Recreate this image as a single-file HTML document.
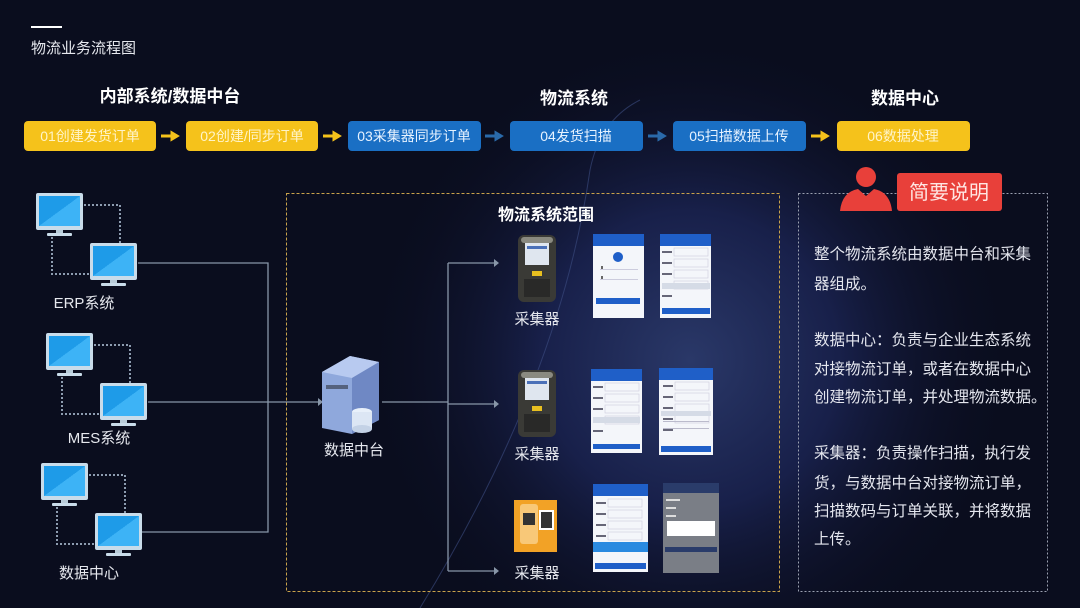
<!DOCTYPE html>
<html><head><meta charset="utf-8"><style>
html,body{margin:0;padding:0;background:#0a0d1e;}
body{width:1080px;height:608px;overflow:hidden;position:relative;font-family:"Liberation Sans","Noto Sans CJK SC",sans-serif;}
svg{position:absolute;left:0;top:0}
text{font-family:"Liberation Sans","Noto Sans CJK SC",sans-serif;}
</style></head><body>
<svg width="1080" height="608" viewBox="0 0 1080 608" xmlns="http://www.w3.org/2000/svg">
<defs>
<radialGradient id="glow" cx="690" cy="360" r="330" gradientUnits="userSpaceOnUse">
<stop offset="0" stop-color="#2a3868"/><stop offset="0.45" stop-color="#18204a"/><stop offset="1" stop-color="#0a0d1e" stop-opacity="0"/>
</radialGradient>
<linearGradient id="scr" x1="0" y1="0" x2="1" y2="1">
<stop offset="0.5" stop-color="#1e9be8"/><stop offset="0.5" stop-color="#3db3f6"/>
</linearGradient>
<g id="mon">
<rect x="0" y="0" width="47" height="37" rx="2" fill="#c9dcea"/>
<rect x="3" y="3" width="41" height="30" fill="url(#scr)"/>
<rect x="20" y="37" width="7" height="3" fill="#b8cbd8"/>
<rect x="11" y="40" width="25" height="3" rx="1" fill="#c9dcea"/>
</g>
<g id="pda">
<rect x="0" y="0" width="38" height="67" rx="6" fill="#3a3a36"/>
<rect x="3" y="2" width="32" height="6" rx="3" fill="#8a8a80"/>
<rect x="7" y="8" width="24" height="22" fill="#dfe6ef"/>
<rect x="9" y="11" width="20" height="3" fill="#4a70b8"/>
<rect x="14" y="36" width="10" height="5" fill="#e8c020"/>
<rect x="6" y="44" width="26" height="18" fill="#222" opacity="0.7"/>
</g>
<g id="scrA">
<rect x="0" y="0" width="51" height="84" fill="#f4f6fa"/>
<rect x="0" y="0" width="51" height="12" fill="#1f5fc8"/>
</g>
<g id="rows">
<rect x="2" y="0" width="10" height="2" fill="#667"/><rect x="14" y="-3" width="34" height="8" fill="none" stroke="#ccd" stroke-width="0.6"/>
<rect x="2" y="11" width="10" height="2" fill="#667"/><rect x="14" y="8" width="34" height="8" fill="none" stroke="#ccd" stroke-width="0.6"/>
<rect x="2" y="22" width="10" height="2" fill="#667"/><rect x="14" y="19" width="34" height="8" fill="none" stroke="#ccd" stroke-width="0.6"/>
<rect x="2" y="33" width="10" height="2" fill="#667"/><rect x="14" y="30" width="34" height="8" fill="none" stroke="#ccd" stroke-width="0.6"/>
<rect x="2" y="44" width="10" height="2" fill="#667"/>
</g>
</defs>
<rect width="1080" height="608" fill="#0a0d1e"/>
<rect width="1080" height="608" fill="url(#glow)"/>
<path d="M420 608 Q560 380 590 170 Q600 120 640 100" stroke="#3d4f84" stroke-width="1" fill="none" opacity="0.6"/>

<rect x="31" y="26" width="31" height="2" fill="#fff"/>
<text x="31" y="53" font-size="15" fill="#e6e8ee">物流业务流程图</text>

<text x="170" y="102" font-size="17" font-weight="bold" fill="#fff" text-anchor="middle">内部系统/数据中台</text>
<text x="574" y="104" font-size="17" font-weight="bold" fill="#fff" text-anchor="middle">物流系统</text>
<text x="905" y="104" font-size="17" font-weight="bold" fill="#fff" text-anchor="middle">数据中心</text>

<g font-size="14" text-anchor="middle">
<rect x="24" y="121" width="132" height="30" rx="4" fill="#f5c21b"/><text x="90" y="141" fill="#fff4c8">01创建发货订单</text>
<rect x="186" y="121" width="132" height="30" rx="4" fill="#f5c21b"/><text x="252" y="141" fill="#fff4c8">02创建/同步订单</text>
<rect x="348" y="121" width="133" height="30" rx="4" fill="#1a6fc4"/><text x="414" y="141" fill="#e6f2ff">03采集器同步订单</text>
<rect x="510" y="121" width="133" height="30" rx="4" fill="#1a6fc4"/><text x="576" y="141" fill="#e6f2ff">04发货扫描</text>
<rect x="673" y="121" width="133" height="30" rx="4" fill="#1a6fc4"/><text x="739" y="141" fill="#e6f2ff">05扫描数据上传</text>
<rect x="837" y="121" width="133" height="30" rx="4" fill="#f5c21b"/><text x="903" y="141" fill="#fff4c8">06数据处理</text>
</g>
<g>
<path d="M161 136h11v-3l5 3-5 3v-3" stroke="#f5c21b" stroke-width="3" fill="#f5c21b"/>
<path d="M323 136h11v-3l5 3-5 3v-3" stroke="#f5c21b" stroke-width="3" fill="#f5c21b"/>
<path d="M485 136h11v-3l5 3-5 3v-3" stroke="#2a6aaa" stroke-width="3" fill="#2a6aaa"/>
<path d="M648 136h11v-3l5 3-5 3v-3" stroke="#2a6aaa" stroke-width="3" fill="#2a6aaa"/>
<path d="M811 136h11v-3l5 3-5 3v-3" stroke="#f5c21b" stroke-width="3" fill="#f5c21b"/>
</g>

<rect x="286.5" y="193.5" width="493" height="398" fill="none" stroke="#c9a24a" stroke-dasharray="3,2" stroke-width="1"/>
<rect x="798.5" y="193.5" width="249" height="398" fill="none" stroke="#9aa0b0" stroke-dasharray="2,2" stroke-width="1"/>

<circle cx="866" cy="177" r="10" fill="#e8403a"/>
<path d="M840 211 Q842 192 858 189 L866 196 L874 189 Q890 192 892 211 Z" fill="#e8403a"/>
<rect x="897" y="173" width="105" height="38" rx="3" fill="#e8403a"/>
<text x="949" y="199" font-size="20" fill="#ffe6e2" text-anchor="middle">简要说明</text>

<g font-size="15.5" fill="#e4e6ee">
<text x="814" y="259">整个物流系统由数据中台和采集</text>
<text x="814" y="289">器组成。</text>
<text x="814" y="345">数据中心：负责与企业生态系统</text>
<text x="814" y="374">对接物流订单，或者在数据中心</text>
<text x="814" y="402">创建物流订单，并处理物流数据。</text>
<text x="814" y="458">采集器：负责操作扫描，执行发</text>
<text x="814" y="488">货，与数据中台对接物流订单，</text>
<text x="814" y="516">扫描数码与订单关联，并将数据</text>
<text x="814" y="544">上传。</text>
</g>

<g stroke="#8d9cb0" stroke-width="2" stroke-dasharray="2,2" fill="none">
<path d="M84 205H120V243"/><path d="M52 237V274H90"/>
<path d="M94 345H130V383"/><path d="M62 377V414H100"/>
<path d="M89 475H125V513"/><path d="M57 507V544H95"/>
</g>
<use href="#mon" x="36" y="193"/><use href="#mon" x="90" y="243"/>
<use href="#mon" x="46" y="333"/><use href="#mon" x="100" y="383"/>
<use href="#mon" x="41" y="463"/><use href="#mon" x="95" y="513"/>
<g font-size="15" fill="#e6e8ee" text-anchor="middle">
<text x="84" y="308">ERP系统</text>
<text x="99" y="443">MES系统</text>
<text x="89" y="578">数据中心</text>
<text x="354" y="455">数据中台</text>
<text x="537" y="324">采集器</text>
<text x="537" y="459">采集器</text>
<text x="537" y="578">采集器</text>
</g>
<text x="546" y="220" font-size="16" font-weight="bold" fill="#fff" text-anchor="middle">物流系统范围</text>

<g stroke="#8896a8" stroke-width="1.3" fill="none">
<path d="M138 263H268V532H142"/><path d="M148 402H318"/>
<path d="M382 402H448"/><path d="M448 263V571"/>
<path d="M448 263H494M448 404H494M448 571H494"/>
</g>
<g fill="#8896a8">
<path d="M318 398l5 4-5 4z"/><path d="M494 259l5 4-5 4z"/><path d="M494 400l5 4-5 4z"/><path d="M494 567l5 4-5 4z"/>
</g>

<path d="M322 372 L350 356 L379 362 L379 420 L352 434 L322 428 Z" fill="#8fa8dc"/>
<path d="M322 372 L350 356 L379 362 L352 378 Z" fill="#b8caf0"/>
<path d="M352 378 L379 362 L379 420 L352 434 Z" fill="#6f88c4"/>
<rect x="326" y="385" width="22" height="4" fill="#55627e"/>
<ellipse cx="362" cy="412" rx="10" ry="4" fill="#e8f0fa"/>
<rect x="352" y="412" width="20" height="17" fill="#dce6f4"/>
<ellipse cx="362" cy="429" rx="10" ry="4" fill="#c4d2e6"/>

<use href="#pda" x="518" y="235"/>
<use href="#pda" x="518" y="370"/>
<rect x="514" y="500" width="43" height="52" fill="#f2a226"/>
<rect x="520" y="504" width="18" height="40" rx="3" fill="#f8c878"/>
<rect x="523" y="513" width="12" height="12" fill="#333"/>
<rect x="539" y="510" width="15" height="20" fill="#fff"/>
<rect x="541" y="512" width="11" height="16" fill="#333"/>

<g>
<use href="#scrA" x="593" y="234"/><rect x="596" y="298" width="44" height="6" fill="#1f5fc8"/><circle cx="618" cy="257" r="5" fill="#1f5fc8"/>
<rect x="600" y="269" width="38" height="1" fill="#ccd"/><rect x="600" y="279" width="38" height="1" fill="#ccd"/>
<rect x="601" y="266" width="2" height="3" fill="#666"/><rect x="601" y="276" width="2" height="3" fill="#666"/>
<use href="#scrA" x="660" y="234"/><use href="#rows" x="660" y="251"/><rect x="662" y="283" width="48" height="6" fill="#d5dbe6"/><rect x="662" y="308" width="48" height="6" fill="#1f5fc8"/>
<use href="#scrA" x="591" y="369"/><use href="#rows" x="591" y="386"/><rect x="593" y="417" width="47" height="6" fill="#d5dbe6"/><rect x="593" y="444" width="47" height="5" fill="#1f5fc8"/>
<rect x="659" y="368" width="54" height="87" fill="#f4f6fa"/><rect x="659" y="368" width="54" height="12" fill="#1f5fc8"/><use href="#rows" x="661" y="385"/>
<rect x="661" y="411" width="50" height="5" fill="#d5dbe6"/><rect x="663" y="421" width="46" height="1" fill="#bbc"/><rect x="663" y="428" width="46" height="1" fill="#bbc"/><rect x="661" y="446" width="50" height="6" fill="#1f5fc8"/>
<rect x="593" y="484" width="55" height="88" fill="#f4f6fa"/><rect x="593" y="484" width="55" height="12" fill="#1f5fc8"/><use href="#rows" x="594" y="502"/>
<rect x="593" y="542" width="55" height="10" fill="#2a8ae0"/><rect x="595" y="563" width="51" height="6" fill="#1f5fc8"/>
<rect x="663" y="483" width="56" height="90" fill="#7a7e86"/><rect x="663" y="483" width="56" height="10" fill="#2a3c6a"/>
<rect x="666" y="499" width="14" height="2" fill="#ddd"/><rect x="666" y="507" width="10" height="2" fill="#ddd"/><rect x="666" y="515" width="10" height="2" fill="#ddd"/>
<rect x="667" y="521" width="48" height="15" fill="#fff"/><rect x="665" y="547" width="52" height="5" fill="#2a3c6a"/>
</g>
</svg>
</body></html>
